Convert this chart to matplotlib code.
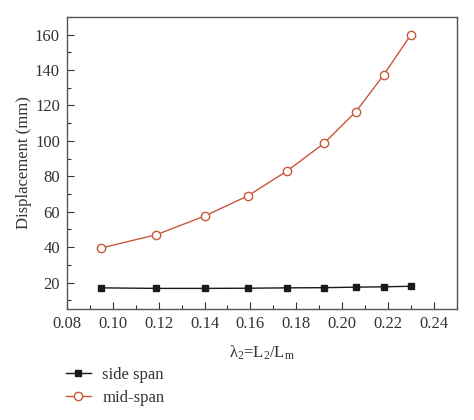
import numpy as np
from matplotlib import pyplot as plt
from matplotlib.ticker import MultipleLocator

plt.rcParams['font.family'] = ['Liberation Serif', 'DejaVu Serif']
plt.rcParams['mathtext.fontset'] = 'custom'
plt.rcParams['mathtext.rm'] = 'Liberation Serif'
plt.rcParams['mathtext.it'] = 'Liberation Serif'

ratio = [0.095, 0.119, 0.140, 0.159, 0.176, 0.192, 0.206, 0.218, 0.230]
side_span = [17.0, 16.7, 16.7, 16.8, 17.0, 17.1, 17.4, 17.6, 17.9]
mid_span = [39.5, 47.0, 57.5, 69.0, 83.0, 98.5, 116.5, 137.0, 160.0]

fig = plt.figure(figsize=(4.74, 4.2), dpi=100)
ax = fig.add_axes([0.141, 0.264, 0.823, 0.696])

ax.plot(ratio, side_span, color='#1a1a1a', lw=1.0, marker='s', ms=5,
        mfc='#1a1a1a', mec='#1a1a1a', label='side span')
ax.plot(ratio, mid_span, color='#c8583a', lw=1.0, marker='o', ms=6,
        mfc='white', mec='#c8583a', mew=1.0, label='mid-span')

ax.set_xlim(0.08, 0.25)
ax.set_ylim(5, 170)
ax.xaxis.set_minor_locator(MultipleLocator(0.01))
ax.yaxis.set_minor_locator(MultipleLocator(10))
xt = np.arange(0.08, 0.241, 0.02)
ax.set_xticks(xt)
ax.set_xticklabels([f'{v:.2f}' for v in xt])
ax.set_yticks(np.arange(20, 161, 20))

ax.tick_params(which='both', direction='in', top=False, right=False,
               labelsize=12, colors='#333333', width=0.8)
ax.tick_params(which='major', length=5, pad=5)
ax.tick_params(which='minor', length=3)
for s in ax.spines.values():
    s.set_color('#555555')
    s.set_linewidth(1.0)

ax.set_xlabel(r'$\mathrm{\lambda_2}$=L$_2$/L$_\mathrm{m}$', fontsize=12, color='#333333', labelpad=8)
ax.set_ylabel('Displacement (mm)', fontsize=12, color='#333333', labelpad=2)

ax.legend(loc='upper left', bbox_to_anchor=(-0.02, -0.175), frameon=False,
          fontsize=12, handlelength=1.5, labelspacing=0.4, handletextpad=0.7,
          borderaxespad=0, labelcolor='#333333')

fig.savefig('out.png', dpi=100)
